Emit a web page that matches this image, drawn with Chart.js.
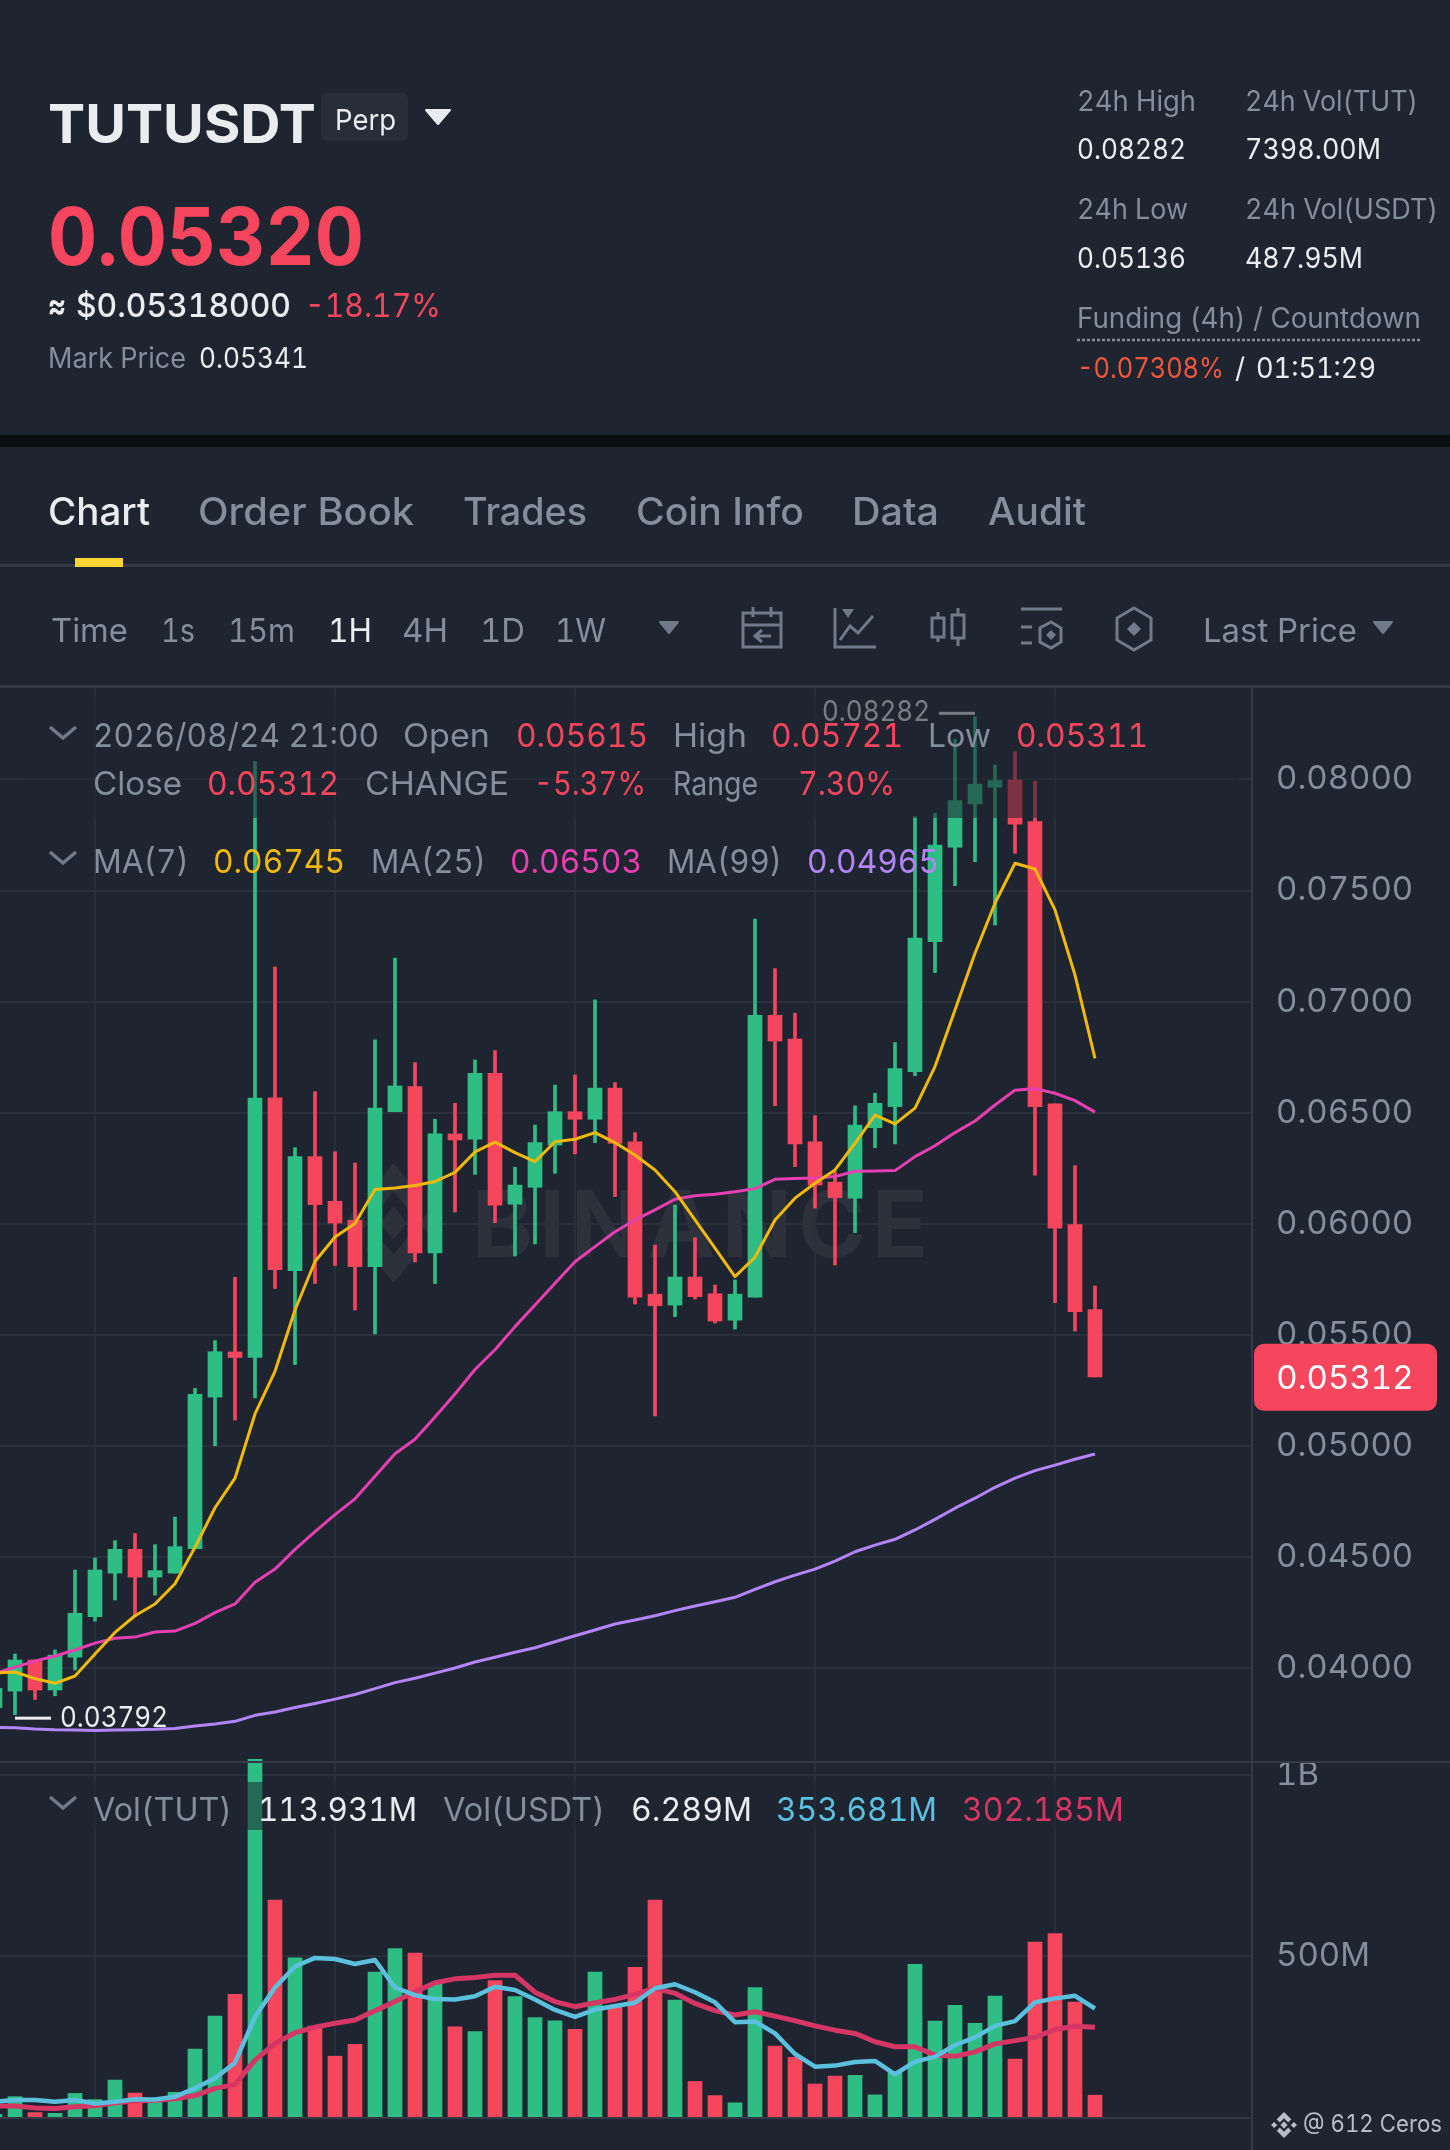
<!DOCTYPE html>
<html><head><meta charset="utf-8"><title>TUTUSDT</title>
<script src="https://cdn.jsdelivr.net/npm/chart.js@4/dist/chart.umd.min.js"></script>
<style>
html,body{margin:0;padding:0;background:#1e2530;width:1450px;height:2150px;overflow:hidden}
svg,canvas{position:absolute;left:0;display:block}
text{font-family:Inter,Roboto,sans-serif;font-variant-numeric:tabular-nums;font-feature-settings:"tnum" 1}
canvas{font-variant-numeric:tabular-nums;font-feature-settings:"tnum" 1}
</style></head><body>
<svg id="under" width="1450" height="2150" style="top:0;z-index:1"></svg>
<canvas id="price" width="1450" height="1075" style="top:687px;z-index:2;width:1450px;height:1075px"></canvas>
<canvas id="vol" width="1450" height="360" style="top:1758px;z-index:2;width:1450px;height:360px"></canvas>
<svg id="over" width="1450" height="2150" style="top:0;z-index:3"></svg>
<script>
// ---------- DATA ----------
const opens=[.03824,.03898,.04038,.03903,.04051,.04233,.04429,.04536,.04411,.04429,.04539,.05221,.05424,.05399,.06567,.05790,.06303,.06102,.06016,.05808,.06505,.06618,.05870,.06405,.06381,.06678,.06089,.06165,.06355,.06505,.06471,.06611,.06370,.05684,.05635,.05761,.05686,.05567,.05670,.06939,.06832,.06370,.06188,.06116,.06433,.06528,.06685,.07270,.07695,.07890,.07965,.07998,.07810,.06540,.05997,.05615];
const highs=[.03939,.04065,.04038,.04083,.04443,.04497,.04575,.04607,.04557,.04681,.05260,.05475,.05760,.08080,.07156,.06343,.06595,.06325,.06274,.06828,.07196,.06726,.06471,.06543,.06738,.06780,.06255,.06445,.06625,.06670,.07008,.06636,.06411,.05905,.06085,.05938,.05725,.05748,.07372,.07149,.06948,.06487,.06235,.06531,.06588,.06816,.07833,.07848,.08181,.08282,.08065,.08125,.07993,.06540,.06262,.05721];
const lows=[.03810,.03792,.03860,.03877,.03993,.04213,.04308,.04233,.04330,.04429,.04539,.05002,.05118,.05217,.05710,.05367,.05732,.05813,.05613,.05505,.06505,.05829,.05732,.06054,.06223,.06006,.05856,.05910,.06228,.06315,.06366,.06123,.05640,.05136,.05583,.05662,.05554,.05527,.05670,.06532,.06258,.06071,.05815,.05961,.06343,.06360,.06667,.07131,.07522,.07630,.07345,.07668,.06220,.05646,.05518,.05311];
const closes=[.03910,.04038,.03903,.04060,.04248,.04443,.04536,.04411,.04440,.04548,.05233,.05425,.05399,.06566,.05794,.06303,.06087,.06004,.05808,.06521,.06621,.05870,.06405,.06378,.06678,.06085,.06175,.06366,.06505,.06471,.06611,.06363,.05671,.05632,.05761,.05673,.05563,.05684,.06939,.06823,.06360,.06175,.06118,.06445,.06543,.06699,.07286,.07705,.07905,.07979,.07995,.07799,.06528,.05981,.05605,.05312];
const ma7=[.03979,.03984,.03954,.03933,.03966,.04065,.04162,.04237,.04290,.04381,.04545,.04723,.04856,.05145,.05337,.05613,.05831,.05941,.06002,.06155,.06162,.06173,.06191,.06232,.06324,.06368,.06321,.06280,.06370,.06381,.06411,.06366,.06310,.06243,.06145,.06018,.05891,.05763,.05850,.06018,.06116,.06183,.06243,.06363,.06490,.06450,.06521,.06708,.06963,.07218,.07443,.07623,.07597,.07413,.07120,.06745];
const ma25=[.03977,.04006,.04033,.04056,.04083,.04114,.04136,.04141,.04164,.04168,.04203,.04251,.04290,.04388,.04447,.04536,.04616,.04692,.04763,.04865,.04966,.05031,.05131,.05235,.05345,.05434,.05538,.05635,.05733,.05830,.05898,.05965,.06018,.06063,.06111,.06127,.06134,.06145,.06159,.06201,.06204,.06207,.06213,.06237,.06238,.06240,.06303,.06352,.06411,.06463,.06535,.06602,.06609,.06588,.06555,.06503];
const ma99=[.03735,.03733,.03727,.03724,.03723,.03721,.03723,.03724,.03726,.03730,.03741,.03750,.03762,.03789,.03804,.03824,.03842,.03862,.03883,.03909,.03936,.03956,.03979,.04002,.04029,.04050,.04073,.04093,.04120,.04147,.04173,.04200,.04218,.04237,.04260,.04281,.04300,.04320,.04356,.04390,.04420,.04447,.04483,.04525,.04555,.04581,.04623,.04671,.04721,.04766,.04815,.04856,.04890,.04915,.04941,.04965];
const volumeM=[61,110,66,64,119,102,156,120,104,122,242,333,393,1043,654,494,305,222,255,455,520,507,423,303,290,431,387,329,320,296,455,359,468,654,377,152,113,93,412,250,219,145,167,169,115,179,476,319,363,313,388,214,538,561,372,114];
const volMaShortM=[96,101,101,96,101,91,96,103,102,110,133,161,204,331,412,470,494,491,477,488,412,391,380,379,388,414,405,379,350,331,351,361,370,410,421,399,371,316,318,285,228,193,196,206,209,172,207,220,253,274,306,319,371,382,389,354];
const volMaLongM=[84,84,79,77,82,85,93,98,100,104,113,133,144,211,257,287,302,313,322,348,373,400,425,436,440,446,446,399,373,359,370,379,393,410,396,368,348,336,345,333,320,306,294,285,262,248,248,225,222,234,256,265,274,296,305,302];
const priceTicks=[.04,.045,.05,.055,.06,.065,.07,.075,.08];
const volTicksM=[500,1000];
const gridCandles=[5,17,29,41,53];
const lastPrice=.05312, dayHigh=.08282, dayLow=.03792;

// ---------- styling ----------
const UP='#2ebd85',DOWN='#f6465d',GRID='#2a303b',GREY='#848e9c',WHITE='#eaecef',BG='#1e2530',AX='#333a46';
const FONT='Inter, Roboto, sans-serif';
const isUp=opens.map((o,i)=>closes[i]>=o);
const candleColors=isUp.map(u=>u?UP:DOWN);
const pts=a=>a.map((v,i)=>({x:i,y:v}));
const noPad=s=>{s.paddingTop=0;s.paddingBottom=0;s.paddingLeft=0;s.paddingRight=0;};
const xScale={type:'linear',min:.25,max:62.85,display:true,offset:false,
  grid:{color:GRID,lineWidth:2,drawTicks:false,offset:false},border:{display:false},ticks:{display:false},
  afterBuildTicks:s=>{s.ticks=gridCandles.map(v=>({value:v}));},
  afterFit:s=>{s.height=0;noPad(s);}};
const yBase=(ticks,fmt,min,max)=>({position:'right',min,max,
  grid:{color:GRID,lineWidth:2,drawTicks:false},border:{display:false},
  ticks:{color:GREY,font:{family:FONT,size:33},padding:24,autoSkip:false,maxRotation:0,callback:fmt},
  afterBuildTicks:s=>{s.ticks=ticks.map(v=>({value:v}));},
  afterFit:s=>{s.width=198;noPad(s);}});
const common={responsive:false,animation:false,devicePixelRatio:1,events:[],
  layout:{padding:0},plugins:{legend:{display:false},tooltip:{enabled:false}}};
const line=(data,color,w,order)=>({type:'line',data:pts(data),borderColor:color,borderWidth:w,pointRadius:0,tension:0,order,borderJoinStyle:'round'});

const priceChart=new Chart(document.getElementById('price'),{type:'bar',
 data:{datasets:[
  {data:lows.map((l,i)=>({x:i,y:[l,highs[i]]})),backgroundColor:candleColors,barThickness:3,grouped:false,order:5},
  {data:opens.map((o,i)=>({x:i,y:[o,closes[i]]})),backgroundColor:candleColors,barThickness:14,grouped:false,order:4,minBarLength:2},
  line(ma99,'#b385f8',3,3),line(ma25,'#e63fb2',3,2),line(ma7,'#f0b90b',3,1)
 ]},
 options:{...common,scales:{x:xScale,y:yBase(priceTicks,v=>Number(v).toFixed(5),.03579,.08416)}}});

const volBase=51;
const volChart=new Chart(document.getElementById('vol'),{type:'bar',
 data:{datasets:[
  {data:volumeM.map((v,i)=>({x:i,y:[volBase,v]})),backgroundColor:candleColors,barThickness:14,grouped:false,order:3},
  line(volMaLongM,'#d63665',5,2),line(volMaShortM,'#5bc0de',4.5,1)
 ]},
 options:{...common,scales:{x:{...xScale},y:yBase(volTicksM,v=>v>=1000?(v/1000)+'B':v+'M',volBase,1047)}}});

// ---------- page furniture ----------
const NS='http://www.w3.org/2000/svg';
function el(svg,tag,attrs,txt){const e=document.createElementNS(NS,tag);for(const k in attrs)e.setAttribute(k,attrs[k]);if(txt!=null)e.textContent=txt;svg.appendChild(e);return e;}
const under=document.getElementById('under'),over=document.getElementById('over');
function T(s,x,y,size,fill,weight,len){const a={x,y,'font-size':size,fill,'font-weight':weight||400};if(len){a.textLength=len;a.lengthAdjust='spacingAndGlyphs';}el(over,'text',a,s);}
function R(x,y,w,h,fill,svg,rx){el(svg||over,'rect',{x,y,width:w,height:h,fill,rx:rx||0});}
function TRI(x1,x2,y1,y2,fill){el(over,'polygon',{points:`${x1},${y1} ${x2},${y1} ${(x1+x2)/2},${y2}`,fill,'stroke':fill,'stroke-width':2,'stroke-linejoin':'round'});}
function CHEV(x1,x2,y1,y2){el(over,'polyline',{points:`${x1},${y1} ${(x1+x2)/2},${y2} ${x2},${y1}`,fill:'none',stroke:'#707a8a','stroke-width':3.5});}
const LOGO='M50 0 L78 28 L66 40 L50 24 L34 40 L22 28 Z M50 100 L78 72 L66 60 L50 76 L34 60 L22 72 Z M50 36 L64 50 L50 64 L36 50 Z M12 38 L24 50 L12 62 L0 50 Z M88 38 L100 50 L88 62 L76 50 Z';

// watermark (under the marks)
const WM='#2c313c';
el(under,'text',{x:472,y:1257,'font-size':92,'font-weight':700,fill:WM,textLength:456,lengthAdjust:'spacing'},'BINANCE');
el(el(under,'g',{transform:'translate(344 1163) scale(0.99 1.2)',fill:WM}),'path',{d:LOGO});

// structure lines & header strip
R(0,435,1450,12,'#0b0e11',under);
R(0,564,1450,3,AX);R(0,685,1450,3,AX);R(0,1761,1450,2,AX);R(0,2117,1250,2,AX);
R(1251,687,2,1463,AX);

// high / low markers, placed through the price scale
const py=v=>priceChart.scales.y.getPixelForValue(v)+687;
{const hy=py(dayHigh)-4;R(939,hy-1,36,3,WHITE);T('0.08282',822,hy+8,29,WHITE,400,108);
 const ly=py(dayLow)+3;R(15,ly-1,36,3,WHITE);T('0.03792',60,ly+9,29,WHITE,400,108);}

// legend dimming overlays
R(24,697,1214,121,'rgba(30,37,48,.56)');
R(24,1782,1214,48,'rgba(30,37,48,.56)');

// header
T('TUTUSDT',48,143,54,WHITE,700,268);
R(321,93,87,48,'#272d39',over,6);T('Perp',335,130,29,WHITE,400,61);TRI(426,450,110,124,WHITE);
T('0.05320',48,265,80,DOWN,700,316);
T('≈',48,317,33,WHITE,700,18);T('$0.05318000',76,317,33,WHITE,500,215);T('-18.17%',305,317,33,DOWN,400,136);
T('Mark Price',48,368,28,GREY,400,138);T('0.05341',199,368,28,WHITE,400,109);
T('24h High',1077,111,28,GREY,400,119);T('24h Vol(TUT)',1245,111,28,GREY,400,173);
T('0.08282',1077,159,28,WHITE,400,109);T('7398.00M',1245,159,28,WHITE,400,136);
T('24h Low',1077,219,28,GREY,400,111);T('24h Vol(USDT)',1245,219,28,GREY,400,193);
T('0.05136',1077,268,28,WHITE,400,109);T('487.95M',1245,268,28,WHITE,400,118);
T('Funding (4h) / Countdown',1077,328,28,GREY,400,344);
el(over,'line',{x1:1077,x2:1422,y1:340,y2:340,stroke:GREY,'stroke-width':2.5,'stroke-dasharray':'3 2'});
T('-0.07308%',1077,378,28,'#f0573c',400,147);T('/',1235,378,28,WHITE);T('01:51:29',1256,378,28,WHITE,400,120);

// tabs
T('Chart',48,525,38,WHITE,500,102);
[['Order Book',198,216],['Trades',463,124],['Coin Info',636,168],['Data',852,87],['Audit',988,98]].forEach(a=>T(a[0],a[1],525,38,GREY,500,a[2]));
R(75,558,48,9,'#fcd535');
// interval row
[['Time',51,77],['1s',161,34],['15m',228,67],['4H',402,46],['1D',480,45],['1W',555,51]].forEach(a=>T(a[0],a[1],642,33,GREY,400,a[2]));
T('1H',328,642,33,WHITE,400,44);TRI(660,678,622,633,'#707a8a');
T('Last Price',1203,642,33,GREY,400,154);TRI(1374,1392,622,633,'#707a8a');
// toolbar icons
const I={fill:'none',stroke:'#707a8a','stroke-width':3};
el(over,'path',{...I,d:'M743 613H781V647H743ZM743 625H781M753 607V617M771 607V617M771 636H755M762 630L755 636L762 642'});
el(over,'path',{...I,d:'M835 608V647H876M840 640L850 626L858 633L873 616'});
el(over,'polygon',{points:'842,609 854,609 848,618',fill:'#707a8a'});
el(over,'path',{...I,d:'M932 618H944V637H932ZM938 612V618M938 637V642M952 615H964V638H952ZM958 608V615M958 638V646'});
el(over,'path',{...I,d:'M1021 609H1062M1021 627H1032M1021 643H1032M1051 622L1061 628V642L1051 648L1040 642V628Z'});
el(over,'polygon',{points:'1051,630 1056,635 1051,640 1046,635',fill:'#707a8a'});
el(over,'path',{...I,d:'M1134 608L1151 618V640L1134 650L1117 640V618Z'});
el(over,'polygon',{points:'1134,622 1141,629 1134,636 1127,629',fill:'#707a8a'});

// price legend
const L=33;
CHEV(50,76,727,738);CHEV(50,76,852,863);CHEV(50,76,1797,1808);
T('2026/08/24 21:00',93,747,L,GREY,400,286);T('Open',403,747,L,GREY,400,87);T('0.05615',516,747,L,DOWN,400,132);
T('High',673,747,L,GREY,400,74);T('0.05721',771,747,L,DOWN,400,132);T('Low',928,747,L,GREY,400,63);T('0.05311',1016,747,L,DOWN,400,132);
T('Close',93,795,L,GREY,400,89);T('0.05312',207,795,L,DOWN,400,132);T('CHANGE',365,795,L,GREY,400,144);T('-5.37%',534,795,L,DOWN,400,112);
T('Range',673,795,L,GREY,400,85);T('7.30%',798,795,L,DOWN,400,97);
T('MA(7)',93,873,L,GREY,400,96);T('0.06745',213,873,L,'#f0b90b',400,132);T('MA(25)',371,873,L,GREY,400,115);T('0.06503',510,873,L,'#e63fb2',400,132);
T('MA(99)',667,873,L,GREY,400,115);T('0.04965',807,873,L,'#b385f8',400,132);
// volume legend
T('Vol(TUT)',93,1821,L,GREY,400,139);T('113.931M',258,1821,L,WHITE,400,159);T('Vol(USDT)',443,1821,L,GREY,400,162);T('6.289M',631,1821,L,WHITE,400,121);
T('353.681M',776,1821,L,'#5bc0de',400,161);T('302.185M',962,1821,L,'#d63665',400,162);

// last price badge, placed through the price scale
{const by=py(lastPrice);R(1254,by-33,183,67,DOWN,over,10);
 el(over,'text',{x:1345,y:by+12,'font-size':33,fill:'#fff','text-anchor':'middle'},'0.05312');}

// credit
el(el(over,'g',{transform:'translate(1271 2112) scale(0.26)',fill:'#b7bdc6'}),'path',{d:LOGO});
T('@ 612 Ceros',1303,2132,24,'#b7bdc6',400,139);
</script>
</body></html>
